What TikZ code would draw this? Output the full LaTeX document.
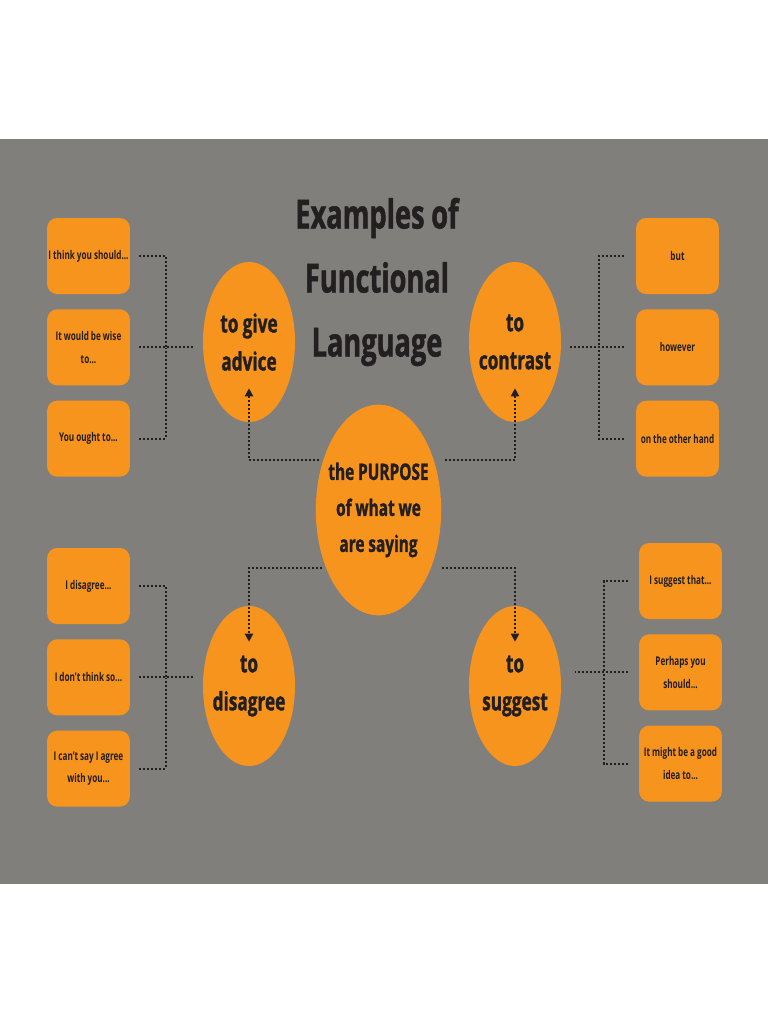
\documentclass[tikz,border=0pt]{standalone}
\usepackage{fontspec}
\setmainfont{Open Sans}[FakeStretch=0.68, WordSpace=0.95]
\newfontfamily\heavyfont{Open Sans}[FakeStretch=0.68, WordSpace=0.95, BoldFeatures={FakeBold=1.2}]
\usetikzlibrary{shapes.geometric, arrows.meta, positioning}
\definecolor{bggray}{RGB}{128,127,124}
\definecolor{boxorange}{RGB}{247,148,30}
\definecolor{inkdark}{RGB}{35,31,32}
\tikzstyle{phrase} = [rectangle, rounded corners=7.5pt,
minimum width=62pt,
minimum height=57pt,
inner sep=1pt,
align=center,
fill=boxorange, text=inkdark,
font=\bfseries\fontsize{9}{17}\selectfont]
\tikzstyle{aim} = [ellipse, minimum width=69pt, minimum height=120pt, inner xsep=-5pt, inner ysep=0pt,
align=center, fill=boxorange, text=inkdark,
font=\heavyfont\bfseries\fontsize{19}{28.5}\selectfont]
\tikzstyle{purpose} = [aim, minimum width=94pt, minimum height=158pt, inner xsep=-8pt,
font=\heavyfont\bfseries\fontsize{17}{27}\selectfont]
\tikzstyle{dotline} = [inkdark, line width=1.5pt, dash pattern=on 1.5pt off 1.5pt]
\tikzstyle{arrow} = [dotline, -{Triangle[width=6pt,length=6pt]}]
\begin{document}
\begin{tikzpicture}[x=0.75pt, y=-0.75pt, node distance=68.5pt]
\useasboundingbox (0,0) rectangle (768,1024);
\fill [bggray] (0,139) rectangle (768,884);

\node (title) [text=inkdark, align=center, font=\heavyfont\bfseries\fontsize{30}{48}\selectfont] at (377,282) {Examples of\\Functional\\Language};

\node (purpose) [purpose] at (378.5,510) {the PURPOSE\\of what we\\are saying};
\node (advice) [aim] at (249,342) {to give\\advice};
\node (contrast) [aim] at (515,342) {to\\contrast};
\node (disagree) [aim] at (249,686) {to\\disagree};
\node (suggest) [aim] at (515,686) {to\\suggest};

% advice
\node (think) [phrase] at (88.5,256) {I think you should...};
\node (wise) [phrase, below of=think] {It would be wise\\to...};
\node (ought) [phrase, below of=wise] {You ought to...};
% contrast
\node (but) [phrase] at (677.5,256) {but};
\node (however) [phrase, below of=but] {however};
\node (otherhand) [phrase, below of=however] {on the other hand};
% disagree
\node (idisagree) [phrase] at (88.5,586) {I disagree...};
\node (dontthink) [phrase, below of=idisagree] {I don’t think so...};
\node (cantsay) [phrase, below of=dontthink] {I can’t say I agree\\with you...};
% suggest
\node (isuggest) [phrase] at (680.5,581) {I suggest that...};
\node (perhaps) [phrase, below of=isuggest] {Perhaps you\\should...};
\node (goodidea) [phrase, below of=perhaps] {It might be a good\\idea to...};

\coordinate (jadvice) at (166,348);
\coordinate (jcontrast) at (599,348);
\coordinate (jdisagree) at (166,678);
\coordinate (jsuggest) at (604,672);

\draw [dotline] ([xshift=7pt]think.east) -| (jadvice);
\draw [dotline] ([xshift=7pt]ought.east) -| (jadvice);
\draw [dotline] ([xshift=7pt]wise.east) -- ([xshift=-6pt]advice.west |- wise.east);

\draw [dotline] ([xshift=-9pt]but.west) -| (jcontrast);
\draw [dotline] ([xshift=-9pt]otherhand.west) -| (jcontrast);
\draw [dotline] ([xshift=-9pt]however.west) -- ([xshift=6pt]contrast.east |- however.west);

\draw [dotline] ([xshift=7pt]idisagree.east) -| (jdisagree);
\draw [dotline] ([xshift=7pt]cantsay.east) -| (jdisagree);
\draw [dotline] ([xshift=7pt]dontthink.east) -- ([xshift=-6pt]disagree.west |- dontthink.east);

\draw [dotline] ([xshift=-8pt]isuggest.west) -| (jsuggest);
\draw [dotline] ([xshift=-8pt]goodidea.west) -| (jsuggest);
\draw [dotline] ([xshift=-8pt]perhaps.west) -- ([xshift=10pt]suggest.east |- perhaps.west);

\draw [arrow] ([xshift=-3pt]purpose.138) -| ([yshift=25.5pt]advice.south);
\draw [arrow] ([xshift=8pt]purpose.42) -| ([yshift=25.5pt]contrast.south);
\draw [arrow] ([xshift=-3pt]purpose.228) -| ([yshift=-27pt]disagree.north);
\draw [arrow] ([xshift=8pt]purpose.312) -| ([yshift=-27pt]suggest.north);

\end{tikzpicture}
\end{document}
